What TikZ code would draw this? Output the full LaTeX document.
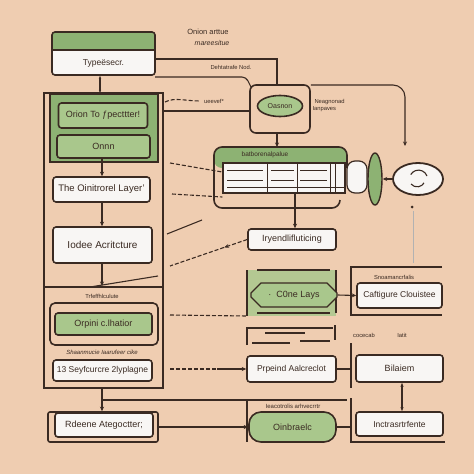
\documentclass[tikz,border=0pt]{standalone}
\usepackage{fontspec}
\setmainfont{Liberation Sans}
\usetikzlibrary{arrows.meta,positioning,calc,shapes.geometric,shapes.misc}
\definecolor{peach}{HTML}{EFCDB1}
\definecolor{inkbrown}{HTML}{3A2A22}
\definecolor{leafgreen}{HTML}{8DB273}
\definecolor{softleaf}{HTML}{A9C78C}
\definecolor{boxwhite}{HTML}{F8F6F4}

\begin{document}
\begin{tikzpicture}[x=1pt,y=-1pt,
  line width=1.1pt,draw=inkbrown,
  card/.style={draw=inkbrown,line width=1.6pt,rounded corners=3pt,fill=boxwhite,
    font=\fontsize{9}{10}\selectfont,text=inkbrown,inner sep=2pt},
  leafcard/.style={card,fill=softleaf},
  tiny/.style={font=\fontsize{5.8}{6.5}\selectfont,text=inkbrown,inner sep=0pt},
  wire/.style={draw=inkbrown,line width=1.1pt},
  arrow/.style={wire,-{Stealth[length=4.5pt,width=4pt]}},
  dashwire/.style={wire,dashed,dash pattern=on 4pt off 2pt}
]
\useasboundingbox (0,0) rectangle (474,474);
\fill[peach] (0,0) rectangle (474,474);

% title
\node[font=\fontsize{7.5}{8}\selectfont,text=inkbrown] (title) at (208,32) {Onion arttue};
\node[font=\fontsize{7}{8}\selectfont\itshape,text=inkbrown] (subtitle) at (212,43) {mareesitue};

% left column
\node[card,minimum width=103pt,minimum height=43pt,
  path picture={\fill[leafgreen] (path picture bounding box.north west) rectangle ([yshift=-18pt]path picture bounding box.north east);
  \draw[inkbrown,line width=1.6pt] ([yshift=-18pt]path picture bounding box.north west) -- ([yshift=-18pt]path picture bounding box.north east);}]
  (typebox) at (103.5,53.5) {};
\node[font=\fontsize{8.5}{9}\selectfont,text=inkbrown] (typetext) at (103.5,63) {Typeësecr.};

\draw[wire,line width=1.4pt] (44,93) rectangle (163,388);
\fill[leafgreen,draw=inkbrown,line width=1.6pt] (50,94) rectangle (158,162);
\node[leafcard,minimum width=89pt,minimum height=25pt] (orion) at (103,115.5) {Orion To ƒpecttter!};
\node[leafcard,minimum width=93pt,minimum height=23pt] (onnn) at (103.5,146.5) {Onnn};
\node[card,font=\fontsize{9.5}{10}\selectfont,minimum width=97pt,minimum height=25pt] (layer) at (101.5,189.5) {The Oinitrorel Layer'};
\node[card,font=\fontsize{10}{11}\selectfont,minimum width=99pt,minimum height=36pt] (iodee) at (102.5,245) {Iodee Acritcture};
\draw[wire] (44,287) -- (163,287);
\draw[wire] (90,287) -- (158,276);
\node[tiny] (trfef) at (102,296) {Trfeffhlculute};
\node[card,fill=peach,minimum width=108pt,minimum height=42pt,rounded corners=5pt] (orpinibg) at (104,324) {};
\node[leafcard,minimum width=97pt,minimum height=22pt] (orpini) at (103.5,324) {Orpini c.lhatior};
\node[tiny,font=\fontsize{6}{7}\selectfont\itshape] (shaan) at (102,352) {Shaanmucie Iaarufeer cike};
\node[card,font=\fontsize{8.5}{9}\selectfont,minimum width=99pt,minimum height=21pt] (seyf) at (102.5,370.5) {13 Seyfcurcre 2lyplagne};
\node[card,fill=peach,minimum width=110pt,minimum height=30pt,rounded corners=2pt] (rdeenebg) at (103,427) {};
\node[card,minimum width=98pt,minimum height=24pt] (rdeene) at (104,425) {Rdeene Ategoctter;};

\draw[arrow,{Stealth[length=3pt]}-{Stealth[length=3pt]}] (typebox.south -| 100,0) -- (100,93);
\draw[arrow] (onnn.south -| 102,0) -- (layer.north -| 102,0);
\draw[arrow] (layer.south -| 102,0) -- (iodee.north -| 102,0);
\draw[arrow] (iodee.south -| 102,0) -- (102,286);
\draw[arrow] (102,388) -- (rdeenebg.north -| 102,0);
\draw[wire] (102,400) -- (347,400);

% top middle
\node[draw=inkbrown,line width=1.6pt,rounded corners=6pt,minimum width=60pt,minimum height=48pt] (ondbox) at (280,109) {};
\node[ellipse,draw=inkbrown,line width=1.6pt,fill=softleaf,minimum width=45pt,minimum height=21pt,
  inner sep=0pt,font=\fontsize{7}{8}\selectfont,text=inkbrown] (oasnon) at (280,106) {Oasnon};
\node[tiny,anchor=west] (neag) at (314,102) {Neagnonad};
\node[tiny,anchor=west] (ianp) at (312,109) {Ianpaves};
\node[tiny] (dehta) at (231,67) {Dehtatrafe Nod.};
\node[tiny] (ueev) at (214,101) {ueevef*};
\coordinate (typeout) at (155,59);
\coordinate (typeout2) at (155,77);
\draw[wire] (typeout) -| (ondbox.north -| 277,0);
\draw[wire,rounded corners=4pt] (typeout2) -- (246,77) -- (251,87);
\draw[dashwire] (165,102) .. controls (175,97) and (185,101) .. (200,101);
\draw[wire] (163,111) -- (ondbox.west |- 0,111);
\coordinate (rightend) at (405,146);
\draw[arrow,rounded corners=12pt] (ondbox.north east |- 0,85) -- (405,85) -- (rightend);
\draw[arrow] (ondbox.south -| 277,0) -- (277,147);

% table group
\fill[leafgreen,rounded corners=8pt] (214,147) rectangle (347,168);
\draw[wire,line width=1.6pt,rounded corners=8pt] (347,168) |- (214,147) |- (340,208) -- (340,200);
\node[tiny,font=\fontsize{6.5}{7}\selectfont] (batbo) at (265,155) {batborenalpalue};
\node[draw=inkbrown,line width=1.4pt,fill=boxwhite,minimum width=122pt,minimum height=30pt,inner sep=0pt] (table) at (284,178) {};
\foreach \x in {267,297,330,335}
  \draw[wire,line width=0.8pt] (\x,163) -- (\x,193);
\foreach \y in {170,180}
  \draw[wire,line width=0.8pt] (227,\y) -- (263,\y) (271,\y) -- (294,\y) (300,\y) -- (327,\y);
\draw[wire,line width=0.8pt] (227,187) -- (345,187);
\node[draw=inkbrown,line width=1.2pt,fill=boxwhite,rounded corners=8pt,minimum width=20pt,minimum height=32pt] (capsule) at (357,177) {};
\node[ellipse,draw=inkbrown,line width=1.4pt,fill=leafgreen,minimum width=14pt,minimum height=52pt,inner sep=0pt] (pod) at (375,179) {};
\node[ellipse,draw=inkbrown,line width=1.8pt,fill=boxwhite,minimum width=50pt,minimum height=32pt,inner sep=0pt] (eye) at (418,179) {};
\draw[wire] ([shift={(9,-3)}]eye.center) arc[start angle=20,end angle=150,radius=9pt];
\draw[wire] ([shift={(-7,5)}]eye.center) arc[start angle=220,end angle=330,radius=8pt];
\draw[arrow] (eye.west) -- (pod.east);
\fill[inkbrown] (412,207) circle (1.5pt);
\draw[gray!60,line width=1pt] (413,211) -- (413,263);

\node[card,minimum width=88pt,minimum height=21pt] (iryend) at (292,239.5) {Iryendlifluticing};
\draw[arrow] (table.south -| 295,0) -- (iryend.north -| 295,0);

\coordinate (dashA) at (170,163);
\coordinate (dashB) at (172,194);
\coordinate (slashA) at (167,234);
\coordinate (slashB) at (202,220);
\coordinate (dashC) at (170,266);
\coordinate (dashD) at (170,315);
\coordinate (dashE) at (170,369);
\draw[dashwire] (dashA) -- (table.west |- 0,172);
\draw[dashwire] (dashB) -- (table.west |- 0,197);
\draw[wire] (slashA) -- (slashB);
\draw[dashwire,-{Stealth[length=5pt]}] (iryend.west) -- ($(iryend.west)!0.3!(dashC)$);
\draw[dashwire] ($(iryend.west)!0.3!(dashC)$) -- (dashC);

% cone group
\fill[softleaf!85!peach] (247,270) rectangle (336,316);
\draw[wire,line width=1.4pt] (257,270) -- (330,270) (257,313) -- (330,313)
  (247,270) -- (247,316) (336,270) -- (336,313);
\node[chamfered rectangle,chamfered rectangle xsep=5pt,chamfered rectangle ysep=5pt,
  draw=inkbrown,line width=1.4pt,fill=softleaf,inner sep=1pt,
  minimum width=86pt,minimum height=24pt,font=\fontsize{9}{10}\selectfont,text=inkbrown] (cone) at (294,295) {\textperiodcentered\ \ C0ne Lays};
\draw[dashwire] (dashD) -- (247,316);
\node[card,font=\fontsize{8.5}{9}\selectfont,minimum width=85pt,minimum height=25pt] (caftig) at (399.5,295.5) {Caftigure Clouistee};
\draw[arrow] (cone.east) -- (caftig.west);
\draw[wire,line width=1.4pt] (442,267) -| (351,315) -- (442,315);
\node[tiny] (snoam) at (394,277) {Snoamancrfalis};

% lower middle
\draw[wire,line width=1.3pt] (247,345) -- (247,328) -- (333,328) (335,325) -- (335,340);
\draw[wire,line width=1.3pt] (265,333) -- (305,333) (252,343) -- (290,343) (300,341) -- (330,341);
\node[tiny] (cocec) at (364,335) {cocecab};
\node[tiny] (iatit) at (402,335) {Iatit};
\node[card,font=\fontsize{8.5}{9}\selectfont,minimum width=89pt,minimum height=26pt] (prpeind) at (291.5,369) {Prpeind Aalcreclot};
\draw[dashwire] (dashE) -- (217,369);
\draw[arrow] (217,369) -- (prpeind.west);
\draw[wire,line width=1.4pt] (351,343) -- (351,388);
\node[card,minimum width=87pt,minimum height=27pt] (bilaiem) at (399.5,368.5) {Bilaiem};
\draw[wire] (prpeind.east) -- (351,369);

\node[tiny,font=\fontsize{6}{7}\selectfont] (ieaco) at (293,406) {Ieacotrolis arhvecrrtr};
\draw[wire,line width=1.4pt] (247,400) -- (247,442);
\node[card,fill=softleaf,rounded corners=12pt,minimum width=87pt,minimum height=30pt] (oinbr) at (292.5,427) {Oinbraelc};
\draw[arrow] (rdeenebg.east) -- (oinbr.west);
\draw[wire,line width=1.4pt] (351,398) |- (445,442);
\node[card,font=\fontsize{8.5}{9}\selectfont,minimum width=87pt,minimum height=24pt] (inctra) at (399.5,424) {Inctrasrtrfente};
\draw[wire] (oinbr.east) -- (351,427);
\draw[arrow,{Stealth[length=4pt]}-{Stealth[length=4pt]}] (bilaiem.south -| 402,0) -- (inctra.north -| 402,0);
\end{tikzpicture}
\end{document}
